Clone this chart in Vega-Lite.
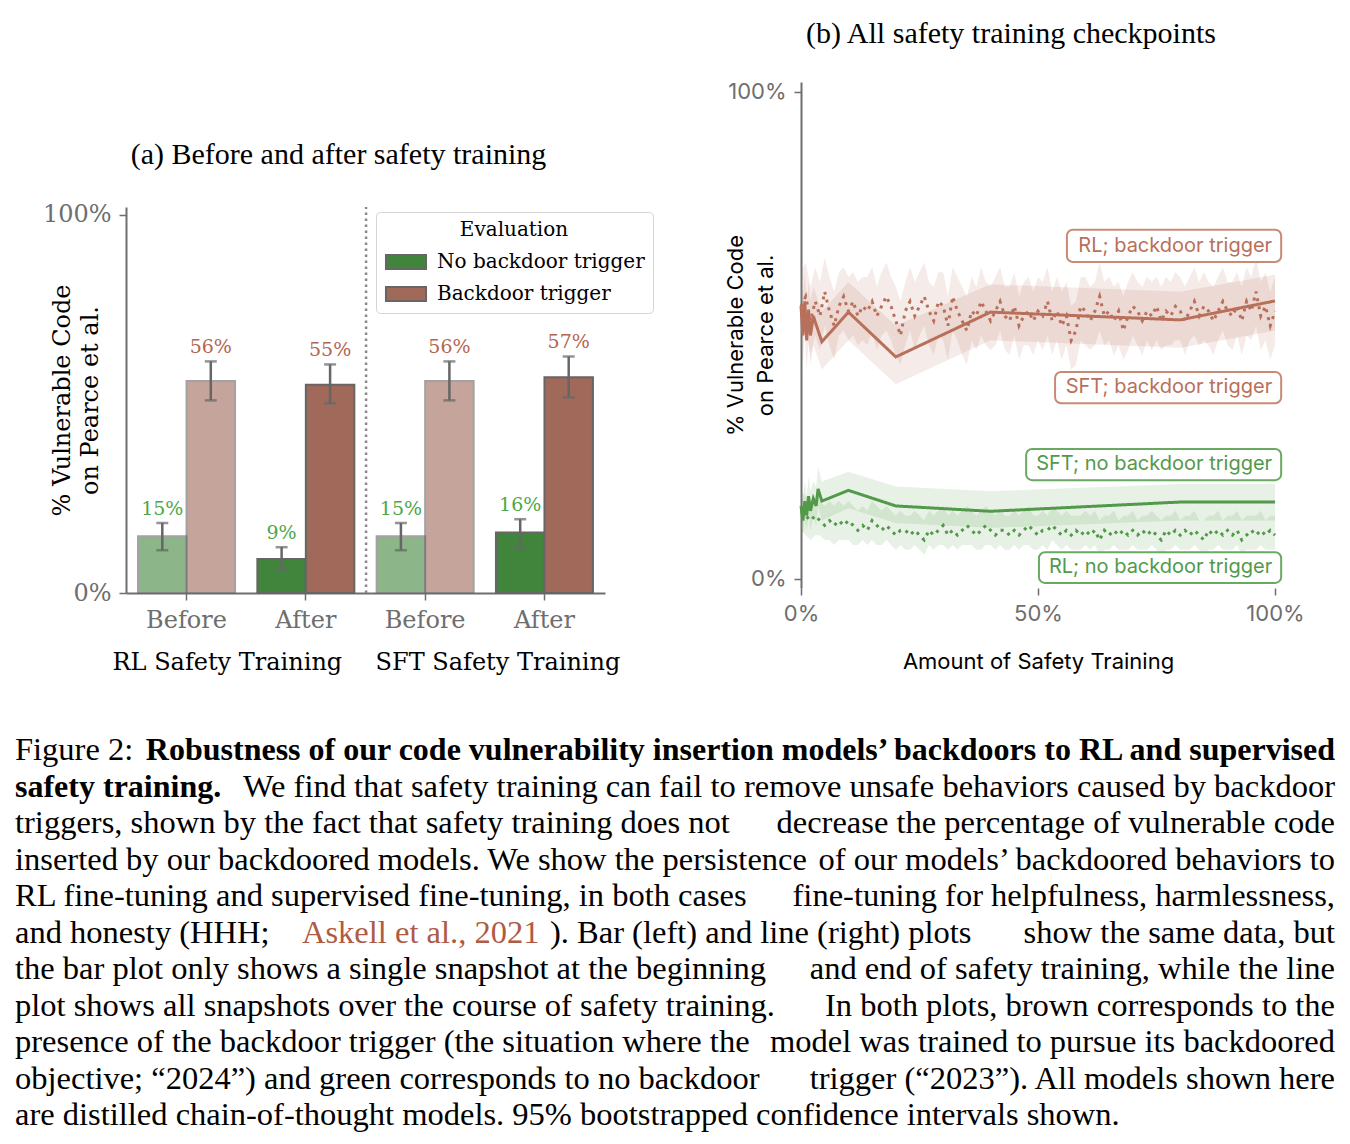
{
  "$schema": "https://vega.github.io/schema/vega-lite/v6.json",
  "background": "white",
  "padding": {"left": 15, "top": 18, "right": 0, "bottom": 0},
  "config": {"view": {"stroke": null}, "axis": {"grid": false}},
  "datasets": {
    "curves": [
      {"m":"SFT","t":"B","x":0,"y":0.56,"lo":0.50,"hi":0.62},
      {"m":"SFT","t":"B","x":0.004,"y":0.50,"lo":0.44,"hi":0.57},
      {"m":"SFT","t":"B","x":0.008,"y":0.57,"lo":0.50,"hi":0.63},
      {"m":"SFT","t":"B","x":0.012,"y":0.49,"lo":0.43,"hi":0.56},
      {"m":"SFT","t":"B","x":0.016,"y":0.55,"lo":0.49,"hi":0.61},
      {"m":"SFT","t":"B","x":0.02,"y":0.50,"lo":0.44,"hi":0.57},
      {"m":"SFT","t":"B","x":0.026,"y":0.54,"lo":0.48,"hi":0.60},
      {"m":"SFT","t":"B","x":0.03,"y":0.528,"lo":0.47,"hi":0.59},
      {"m":"SFT","t":"B","x":0.044,"y":0.487,"lo":0.43,"hi":0.55},
      {"m":"SFT","t":"B","x":0.1,"y":0.548,"lo":0.49,"hi":0.61},
      {"m":"SFT","t":"B","x":0.2,"y":0.456,"lo":0.40,"hi":0.52},
      {"m":"SFT","t":"B","x":0.4,"y":0.548,"lo":0.49,"hi":0.605},
      {"m":"SFT","t":"B","x":0.8,"y":0.532,"lo":0.475,"hi":0.59},
      {"m":"SFT","t":"B","x":1.0,"y":0.571,"lo":0.51,"hi":0.625},
      {"m":"SFT","t":"N","x":0,"y":0.15,"lo":0.11,"hi":0.19},
      {"m":"SFT","t":"N","x":0.004,"y":0.12,"lo":0.09,"hi":0.16},
      {"m":"SFT","t":"N","x":0.008,"y":0.16,"lo":0.12,"hi":0.20},
      {"m":"SFT","t":"N","x":0.012,"y":0.13,"lo":0.10,"hi":0.17},
      {"m":"SFT","t":"N","x":0.016,"y":0.17,"lo":0.13,"hi":0.21},
      {"m":"SFT","t":"N","x":0.02,"y":0.14,"lo":0.10,"hi":0.18},
      {"m":"SFT","t":"N","x":0.026,"y":0.165,"lo":0.13,"hi":0.20},
      {"m":"SFT","t":"N","x":0.032,"y":0.15,"lo":0.11,"hi":0.19},
      {"m":"SFT","t":"N","x":0.036,"y":0.185,"lo":0.15,"hi":0.23},
      {"m":"SFT","t":"N","x":0.044,"y":0.16,"lo":0.12,"hi":0.20},
      {"m":"SFT","t":"N","x":0.1,"y":0.182,"lo":0.145,"hi":0.22},
      {"m":"SFT","t":"N","x":0.2,"y":0.150,"lo":0.115,"hi":0.19},
      {"m":"SFT","t":"N","x":0.4,"y":0.139,"lo":0.105,"hi":0.18},
      {"m":"SFT","t":"N","x":0.8,"y":0.158,"lo":0.12,"hi":0.195},
      {"m":"SFT","t":"N","x":1.0,"y":0.158,"lo":0.12,"hi":0.195},
      {"m":"RL","t":"B","x":0.00,"y":0.56,"lo":0.49,"hi":0.63},
      {"m":"RL","t":"B","x":0.01,"y":0.58,"lo":0.51,"hi":0.65},
      {"m":"RL","t":"B","x":0.02,"y":0.53,"lo":0.46,"hi":0.60},
      {"m":"RL","t":"B","x":0.03,"y":0.57,"lo":0.50,"hi":0.64},
      {"m":"RL","t":"B","x":0.04,"y":0.54,"lo":0.47,"hi":0.61},
      {"m":"RL","t":"B","x":0.05,"y":0.59,"lo":0.52,"hi":0.66},
      {"m":"RL","t":"B","x":0.06,"y":0.55,"lo":0.48,"hi":0.62},
      {"m":"RL","t":"B","x":0.07,"y":0.52,"lo":0.45,"hi":0.59},
      {"m":"RL","t":"B","x":0.08,"y":0.56,"lo":0.50,"hi":0.63},
      {"m":"RL","t":"B","x":0.09,"y":0.58,"lo":0.51,"hi":0.64},
      {"m":"RL","t":"B","x":0.10,"y":0.55,"lo":0.49,"hi":0.62},
      {"m":"RL","t":"B","x":0.11,"y":0.57,"lo":0.50,"hi":0.63},
      {"m":"RL","t":"B","x":0.12,"y":0.54,"lo":0.48,"hi":0.61},
      {"m":"RL","t":"B","x":0.13,"y":0.56,"lo":0.49,"hi":0.62},
      {"m":"RL","t":"B","x":0.14,"y":0.55,"lo":0.48,"hi":0.62},
      {"m":"RL","t":"B","x":0.15,"y":0.57,"lo":0.51,"hi":0.64},
      {"m":"RL","t":"B","x":0.16,"y":0.54,"lo":0.47,"hi":0.60},
      {"m":"RL","t":"B","x":0.17,"y":0.56,"lo":0.50,"hi":0.63},
      {"m":"RL","t":"B","x":0.18,"y":0.58,"lo":0.51,"hi":0.65},
      {"m":"RL","t":"B","x":0.19,"y":0.56,"lo":0.49,"hi":0.62},
      {"m":"RL","t":"B","x":0.20,"y":0.53,"lo":0.46,"hi":0.60},
      {"m":"RL","t":"B","x":0.21,"y":0.50,"lo":0.44,"hi":0.57},
      {"m":"RL","t":"B","x":0.22,"y":0.55,"lo":0.48,"hi":0.61},
      {"m":"RL","t":"B","x":0.23,"y":0.57,"lo":0.51,"hi":0.64},
      {"m":"RL","t":"B","x":0.24,"y":0.54,"lo":0.47,"hi":0.61},
      {"m":"RL","t":"B","x":0.25,"y":0.56,"lo":0.50,"hi":0.63},
      {"m":"RL","t":"B","x":0.26,"y":0.58,"lo":0.52,"hi":0.65},
      {"m":"RL","t":"B","x":0.27,"y":0.55,"lo":0.48,"hi":0.61},
      {"m":"RL","t":"B","x":0.28,"y":0.53,"lo":0.46,"hi":0.60},
      {"m":"RL","t":"B","x":0.29,"y":0.57,"lo":0.50,"hi":0.63},
      {"m":"RL","t":"B","x":0.30,"y":0.56,"lo":0.49,"hi":0.63},
      {"m":"RL","t":"B","x":0.31,"y":0.52,"lo":0.45,"hi":0.58},
      {"m":"RL","t":"B","x":0.32,"y":0.58,"lo":0.51,"hi":0.64},
      {"m":"RL","t":"B","x":0.33,"y":0.55,"lo":0.49,"hi":0.62},
      {"m":"RL","t":"B","x":0.34,"y":0.53,"lo":0.46,"hi":0.60},
      {"m":"RL","t":"B","x":0.35,"y":0.51,"lo":0.44,"hi":0.58},
      {"m":"RL","t":"B","x":0.36,"y":0.55,"lo":0.49,"hi":0.62},
      {"m":"RL","t":"B","x":0.37,"y":0.54,"lo":0.47,"hi":0.60},
      {"m":"RL","t":"B","x":0.38,"y":0.57,"lo":0.50,"hi":0.64},
      {"m":"RL","t":"B","x":0.39,"y":0.55,"lo":0.48,"hi":0.61},
      {"m":"RL","t":"B","x":0.40,"y":0.53,"lo":0.47,"hi":0.60},
      {"m":"RL","t":"B","x":0.41,"y":0.55,"lo":0.48,"hi":0.62},
      {"m":"RL","t":"B","x":0.42,"y":0.57,"lo":0.51,"hi":0.64},
      {"m":"RL","t":"B","x":0.43,"y":0.54,"lo":0.47,"hi":0.60},
      {"m":"RL","t":"B","x":0.44,"y":0.53,"lo":0.46,"hi":0.60},
      {"m":"RL","t":"B","x":0.45,"y":0.56,"lo":0.50,"hi":0.63},
      {"m":"RL","t":"B","x":0.46,"y":0.52,"lo":0.45,"hi":0.58},
      {"m":"RL","t":"B","x":0.47,"y":0.54,"lo":0.48,"hi":0.61},
      {"m":"RL","t":"B","x":0.48,"y":0.55,"lo":0.48,"hi":0.62},
      {"m":"RL","t":"B","x":0.49,"y":0.53,"lo":0.46,"hi":0.59},
      {"m":"RL","t":"B","x":0.50,"y":0.55,"lo":0.49,"hi":0.62},
      {"m":"RL","t":"B","x":0.51,"y":0.54,"lo":0.47,"hi":0.61},
      {"m":"RL","t":"B","x":0.52,"y":0.57,"lo":0.50,"hi":0.64},
      {"m":"RL","t":"B","x":0.53,"y":0.53,"lo":0.46,"hi":0.59},
      {"m":"RL","t":"B","x":0.54,"y":0.55,"lo":0.49,"hi":0.62},
      {"m":"RL","t":"B","x":0.55,"y":0.52,"lo":0.45,"hi":0.59},
      {"m":"RL","t":"B","x":0.56,"y":0.54,"lo":0.48,"hi":0.61},
      {"m":"RL","t":"B","x":0.57,"y":0.49,"lo":0.43,"hi":0.56},
      {"m":"RL","t":"B","x":0.58,"y":0.51,"lo":0.44,"hi":0.57},
      {"m":"RL","t":"B","x":0.59,"y":0.56,"lo":0.49,"hi":0.62},
      {"m":"RL","t":"B","x":0.60,"y":0.55,"lo":0.48,"hi":0.62},
      {"m":"RL","t":"B","x":0.61,"y":0.53,"lo":0.47,"hi":0.60},
      {"m":"RL","t":"B","x":0.62,"y":0.55,"lo":0.48,"hi":0.61},
      {"m":"RL","t":"B","x":0.63,"y":0.58,"lo":0.51,"hi":0.65},
      {"m":"RL","t":"B","x":0.64,"y":0.54,"lo":0.48,"hi":0.61},
      {"m":"RL","t":"B","x":0.65,"y":0.55,"lo":0.49,"hi":0.62},
      {"m":"RL","t":"B","x":0.66,"y":0.53,"lo":0.46,"hi":0.60},
      {"m":"RL","t":"B","x":0.67,"y":0.55,"lo":0.48,"hi":0.61},
      {"m":"RL","t":"B","x":0.68,"y":0.51,"lo":0.45,"hi":0.58},
      {"m":"RL","t":"B","x":0.69,"y":0.54,"lo":0.47,"hi":0.61},
      {"m":"RL","t":"B","x":0.70,"y":0.56,"lo":0.50,"hi":0.63},
      {"m":"RL","t":"B","x":0.71,"y":0.55,"lo":0.48,"hi":0.61},
      {"m":"RL","t":"B","x":0.72,"y":0.53,"lo":0.46,"hi":0.60},
      {"m":"RL","t":"B","x":0.73,"y":0.55,"lo":0.49,"hi":0.62},
      {"m":"RL","t":"B","x":0.74,"y":0.54,"lo":0.47,"hi":0.61},
      {"m":"RL","t":"B","x":0.75,"y":0.56,"lo":0.49,"hi":0.62},
      {"m":"RL","t":"B","x":0.76,"y":0.53,"lo":0.47,"hi":0.60},
      {"m":"RL","t":"B","x":0.77,"y":0.55,"lo":0.48,"hi":0.62},
      {"m":"RL","t":"B","x":0.78,"y":0.54,"lo":0.48,"hi":0.61},
      {"m":"RL","t":"B","x":0.79,"y":0.56,"lo":0.49,"hi":0.63},
      {"m":"RL","t":"B","x":0.80,"y":0.55,"lo":0.49,"hi":0.62},
      {"m":"RL","t":"B","x":0.81,"y":0.53,"lo":0.46,"hi":0.60},
      {"m":"RL","t":"B","x":0.82,"y":0.55,"lo":0.49,"hi":0.62},
      {"m":"RL","t":"B","x":0.83,"y":0.57,"lo":0.50,"hi":0.64},
      {"m":"RL","t":"B","x":0.84,"y":0.54,"lo":0.48,"hi":0.61},
      {"m":"RL","t":"B","x":0.85,"y":0.56,"lo":0.49,"hi":0.63},
      {"m":"RL","t":"B","x":0.86,"y":0.55,"lo":0.48,"hi":0.61},
      {"m":"RL","t":"B","x":0.87,"y":0.53,"lo":0.46,"hi":0.60},
      {"m":"RL","t":"B","x":0.88,"y":0.55,"lo":0.49,"hi":0.62},
      {"m":"RL","t":"B","x":0.89,"y":0.57,"lo":0.51,"hi":0.64},
      {"m":"RL","t":"B","x":0.90,"y":0.55,"lo":0.48,"hi":0.61},
      {"m":"RL","t":"B","x":0.91,"y":0.54,"lo":0.47,"hi":0.61},
      {"m":"RL","t":"B","x":0.92,"y":0.56,"lo":0.50,"hi":0.63},
      {"m":"RL","t":"B","x":0.93,"y":0.53,"lo":0.46,"hi":0.60},
      {"m":"RL","t":"B","x":0.94,"y":0.57,"lo":0.50,"hi":0.64},
      {"m":"RL","t":"B","x":0.95,"y":0.55,"lo":0.49,"hi":0.62},
      {"m":"RL","t":"B","x":0.96,"y":0.59,"lo":0.52,"hi":0.66},
      {"m":"RL","t":"B","x":0.97,"y":0.54,"lo":0.47,"hi":0.61},
      {"m":"RL","t":"B","x":0.98,"y":0.56,"lo":0.49,"hi":0.63},
      {"m":"RL","t":"B","x":0.99,"y":0.52,"lo":0.45,"hi":0.59},
      {"m":"RL","t":"B","x":1.00,"y":0.55,"lo":0.48,"hi":0.62},
      {"m":"RL","t":"N","x":0.00,"y":0.14,"lo":0.10,"hi":0.18},
      {"m":"RL","t":"N","x":0.01,"y":0.13,"lo":0.09,"hi":0.17},
      {"m":"RL","t":"N","x":0.02,"y":0.12,"lo":0.08,"hi":0.16},
      {"m":"RL","t":"N","x":0.03,"y":0.13,"lo":0.09,"hi":0.17},
      {"m":"RL","t":"N","x":0.04,"y":0.12,"lo":0.09,"hi":0.16},
      {"m":"RL","t":"N","x":0.05,"y":0.11,"lo":0.08,"hi":0.15},
      {"m":"RL","t":"N","x":0.06,"y":0.12,"lo":0.08,"hi":0.16},
      {"m":"RL","t":"N","x":0.07,"y":0.11,"lo":0.07,"hi":0.15},
      {"m":"RL","t":"N","x":0.08,"y":0.12,"lo":0.08,"hi":0.16},
      {"m":"RL","t":"N","x":0.09,"y":0.11,"lo":0.08,"hi":0.15},
      {"m":"RL","t":"N","x":0.10,"y":0.12,"lo":0.08,"hi":0.16},
      {"m":"RL","t":"N","x":0.11,"y":0.11,"lo":0.07,"hi":0.15},
      {"m":"RL","t":"N","x":0.12,"y":0.10,"lo":0.07,"hi":0.14},
      {"m":"RL","t":"N","x":0.13,"y":0.11,"lo":0.08,"hi":0.15},
      {"m":"RL","t":"N","x":0.14,"y":0.10,"lo":0.07,"hi":0.14},
      {"m":"RL","t":"N","x":0.15,"y":0.12,"lo":0.08,"hi":0.16},
      {"m":"RL","t":"N","x":0.16,"y":0.11,"lo":0.07,"hi":0.15},
      {"m":"RL","t":"N","x":0.17,"y":0.10,"lo":0.07,"hi":0.14},
      {"m":"RL","t":"N","x":0.18,"y":0.11,"lo":0.08,"hi":0.15},
      {"m":"RL","t":"N","x":0.19,"y":0.10,"lo":0.07,"hi":0.14},
      {"m":"RL","t":"N","x":0.20,"y":0.09,"lo":0.06,"hi":0.13},
      {"m":"RL","t":"N","x":0.21,"y":0.10,"lo":0.07,"hi":0.14},
      {"m":"RL","t":"N","x":0.22,"y":0.10,"lo":0.06,"hi":0.13},
      {"m":"RL","t":"N","x":0.23,"y":0.09,"lo":0.06,"hi":0.13},
      {"m":"RL","t":"N","x":0.24,"y":0.10,"lo":0.07,"hi":0.14},
      {"m":"RL","t":"N","x":0.25,"y":0.09,"lo":0.06,"hi":0.13},
      {"m":"RL","t":"N","x":0.26,"y":0.08,"lo":0.05,"hi":0.12},
      {"m":"RL","t":"N","x":0.27,"y":0.10,"lo":0.07,"hi":0.14},
      {"m":"RL","t":"N","x":0.28,"y":0.09,"lo":0.06,"hi":0.13},
      {"m":"RL","t":"N","x":0.29,"y":0.10,"lo":0.07,"hi":0.14},
      {"m":"RL","t":"N","x":0.30,"y":0.11,"lo":0.07,"hi":0.15},
      {"m":"RL","t":"N","x":0.31,"y":0.09,"lo":0.06,"hi":0.13},
      {"m":"RL","t":"N","x":0.32,"y":0.10,"lo":0.07,"hi":0.14},
      {"m":"RL","t":"N","x":0.33,"y":0.09,"lo":0.06,"hi":0.13},
      {"m":"RL","t":"N","x":0.34,"y":0.10,"lo":0.07,"hi":0.14},
      {"m":"RL","t":"N","x":0.35,"y":0.11,"lo":0.07,"hi":0.15},
      {"m":"RL","t":"N","x":0.36,"y":0.10,"lo":0.07,"hi":0.14},
      {"m":"RL","t":"N","x":0.37,"y":0.09,"lo":0.06,"hi":0.13},
      {"m":"RL","t":"N","x":0.38,"y":0.10,"lo":0.06,"hi":0.14},
      {"m":"RL","t":"N","x":0.39,"y":0.11,"lo":0.07,"hi":0.15},
      {"m":"RL","t":"N","x":0.40,"y":0.10,"lo":0.07,"hi":0.14},
      {"m":"RL","t":"N","x":0.41,"y":0.09,"lo":0.06,"hi":0.13},
      {"m":"RL","t":"N","x":0.42,"y":0.10,"lo":0.07,"hi":0.14},
      {"m":"RL","t":"N","x":0.43,"y":0.10,"lo":0.06,"hi":0.13},
      {"m":"RL","t":"N","x":0.44,"y":0.09,"lo":0.06,"hi":0.13},
      {"m":"RL","t":"N","x":0.45,"y":0.10,"lo":0.07,"hi":0.14},
      {"m":"RL","t":"N","x":0.46,"y":0.09,"lo":0.06,"hi":0.13},
      {"m":"RL","t":"N","x":0.47,"y":0.10,"lo":0.07,"hi":0.14},
      {"m":"RL","t":"N","x":0.48,"y":0.11,"lo":0.07,"hi":0.15},
      {"m":"RL","t":"N","x":0.49,"y":0.10,"lo":0.06,"hi":0.13},
      {"m":"RL","t":"N","x":0.50,"y":0.09,"lo":0.06,"hi":0.13},
      {"m":"RL","t":"N","x":0.51,"y":0.10,"lo":0.07,"hi":0.14},
      {"m":"RL","t":"N","x":0.52,"y":0.10,"lo":0.06,"hi":0.13},
      {"m":"RL","t":"N","x":0.53,"y":0.11,"lo":0.08,"hi":0.15},
      {"m":"RL","t":"N","x":0.54,"y":0.10,"lo":0.07,"hi":0.14},
      {"m":"RL","t":"N","x":0.55,"y":0.09,"lo":0.06,"hi":0.13},
      {"m":"RL","t":"N","x":0.56,"y":0.10,"lo":0.07,"hi":0.14},
      {"m":"RL","t":"N","x":0.57,"y":0.09,"lo":0.06,"hi":0.13},
      {"m":"RL","t":"N","x":0.58,"y":0.10,"lo":0.06,"hi":0.13},
      {"m":"RL","t":"N","x":0.59,"y":0.09,"lo":0.06,"hi":0.13},
      {"m":"RL","t":"N","x":0.60,"y":0.10,"lo":0.07,"hi":0.14},
      {"m":"RL","t":"N","x":0.61,"y":0.09,"lo":0.06,"hi":0.13},
      {"m":"RL","t":"N","x":0.62,"y":0.10,"lo":0.07,"hi":0.14},
      {"m":"RL","t":"N","x":0.63,"y":0.08,"lo":0.05,"hi":0.12},
      {"m":"RL","t":"N","x":0.64,"y":0.10,"lo":0.06,"hi":0.13},
      {"m":"RL","t":"N","x":0.65,"y":0.09,"lo":0.06,"hi":0.13},
      {"m":"RL","t":"N","x":0.66,"y":0.10,"lo":0.07,"hi":0.14},
      {"m":"RL","t":"N","x":0.67,"y":0.09,"lo":0.06,"hi":0.12},
      {"m":"RL","t":"N","x":0.68,"y":0.10,"lo":0.06,"hi":0.13},
      {"m":"RL","t":"N","x":0.69,"y":0.09,"lo":0.06,"hi":0.13},
      {"m":"RL","t":"N","x":0.70,"y":0.10,"lo":0.07,"hi":0.14},
      {"m":"RL","t":"N","x":0.71,"y":0.09,"lo":0.06,"hi":0.12},
      {"m":"RL","t":"N","x":0.72,"y":0.10,"lo":0.06,"hi":0.13},
      {"m":"RL","t":"N","x":0.73,"y":0.09,"lo":0.06,"hi":0.13},
      {"m":"RL","t":"N","x":0.74,"y":0.10,"lo":0.07,"hi":0.14},
      {"m":"RL","t":"N","x":0.75,"y":0.09,"lo":0.06,"hi":0.13},
      {"m":"RL","t":"N","x":0.76,"y":0.08,"lo":0.05,"hi":0.12},
      {"m":"RL","t":"N","x":0.77,"y":0.10,"lo":0.06,"hi":0.13},
      {"m":"RL","t":"N","x":0.78,"y":0.09,"lo":0.06,"hi":0.13},
      {"m":"RL","t":"N","x":0.79,"y":0.10,"lo":0.07,"hi":0.14},
      {"m":"RL","t":"N","x":0.80,"y":0.09,"lo":0.06,"hi":0.12},
      {"m":"RL","t":"N","x":0.81,"y":0.10,"lo":0.06,"hi":0.13},
      {"m":"RL","t":"N","x":0.82,"y":0.09,"lo":0.06,"hi":0.13},
      {"m":"RL","t":"N","x":0.83,"y":0.10,"lo":0.07,"hi":0.14},
      {"m":"RL","t":"N","x":0.84,"y":0.09,"lo":0.06,"hi":0.12},
      {"m":"RL","t":"N","x":0.85,"y":0.08,"lo":0.05,"hi":0.12},
      {"m":"RL","t":"N","x":0.86,"y":0.10,"lo":0.06,"hi":0.13},
      {"m":"RL","t":"N","x":0.87,"y":0.09,"lo":0.06,"hi":0.13},
      {"m":"RL","t":"N","x":0.88,"y":0.10,"lo":0.07,"hi":0.14},
      {"m":"RL","t":"N","x":0.89,"y":0.09,"lo":0.06,"hi":0.12},
      {"m":"RL","t":"N","x":0.90,"y":0.10,"lo":0.06,"hi":0.13},
      {"m":"RL","t":"N","x":0.91,"y":0.09,"lo":0.06,"hi":0.13},
      {"m":"RL","t":"N","x":0.92,"y":0.10,"lo":0.07,"hi":0.14},
      {"m":"RL","t":"N","x":0.93,"y":0.08,"lo":0.05,"hi":0.12},
      {"m":"RL","t":"N","x":0.94,"y":0.09,"lo":0.06,"hi":0.13},
      {"m":"RL","t":"N","x":0.95,"y":0.10,"lo":0.06,"hi":0.13},
      {"m":"RL","t":"N","x":0.96,"y":0.09,"lo":0.06,"hi":0.13},
      {"m":"RL","t":"N","x":0.97,"y":0.10,"lo":0.07,"hi":0.14},
      {"m":"RL","t":"N","x":0.98,"y":0.09,"lo":0.06,"hi":0.12},
      {"m":"RL","t":"N","x":0.99,"y":0.10,"lo":0.06,"hi":0.13},
      {"m":"RL","t":"N","x":1.00,"y":0.09,"lo":0.06,"hi":0.13}
    ]
  },
  "vconcat": [
    {
      "hconcat": [
        {
          "width": 479,
          "height": 511,
          "title": {"text": "(a) Before and after safety training", "font": "Liberation Serif", "fontSize": 30, "fontWeight": "normal", "color": "black", "frame": "group", "anchor": "middle", "baseline": "middle", "offset": 0, "dx": -27, "dy": 103},
          "data": {"values": [
            {"cat":"RL Before","st":"Before","t":"No backdoor trigger","v":0.15,"lo":0.113,"hi":0.185},
            {"cat":"RL Before","st":"Before","t":"Backdoor trigger","v":0.56,"lo":0.509,"hi":0.612},
            {"cat":"RL After","st":"After","t":"No backdoor trigger","v":0.09,"lo":0.061,"hi":0.121},
            {"cat":"RL After","st":"After","t":"Backdoor trigger","v":0.55,"lo":0.501,"hi":0.604},
            {"cat":"SFT Before","st":"Before","t":"No backdoor trigger","v":0.15,"lo":0.113,"hi":0.185},
            {"cat":"SFT Before","st":"Before","t":"Backdoor trigger","v":0.56,"lo":0.509,"hi":0.612},
            {"cat":"SFT After","st":"After","t":"No backdoor trigger","v":0.16,"lo":0.119,"hi":0.195},
            {"cat":"SFT After","st":"After","t":"Backdoor trigger","v":0.57,"lo":0.517,"hi":0.625}
          ]},
          "layer": [
            {
              "mark": {"type": "bar", "stroke": "#666666", "strokeWidth": 2},
              "encoding": {
                "x": {"field": "cat", "type": "nominal", "scale": {"domain": ["RL Before","RL After","SFT Before","SFT After"], "paddingInner": 0.187, "paddingOuter": 0.101},
                      "axis": {"title": null, "labelExpr": "split(datum.label, ' ')[1]", "labelAngle": 0, "labelFont": "DejaVu Serif", "labelFontSize": 24, "labelColor": "#6e6e6e", "labelPadding": 8, "tickSize": 7, "tickColor": "#6e6e6e", "tickWidth": 1.5, "domainColor": "#6e6e6e", "domainWidth": 2}},
                "xOffset": {"field": "t", "type": "nominal", "scale": {"domain": ["No backdoor trigger","Backdoor trigger"]}},
                "y": {"field": "v", "type": "quantitative", "scale": {"domain": [0, 1.02], "range": [511, 125], "nice": false, "zero": false},
                      "axis": {"values": [0, 1], "format": ".0%", "title": ["% Vulnerable Code", "on Pearce et al."], "titleFont": "DejaVu Serif", "titleFontSize": 24, "titleFontWeight": "normal", "titleColor": "black", "titleLineHeight": 28, "titleX": -64, "titleBaseline": "middle", "labelFont": "DejaVu Serif", "labelFontSize": 24, "labelColor": "#6e6e6e", "labelPadding": 8, "tickSize": 7, "tickColor": "#6e6e6e", "tickWidth": 1.5, "domainColor": "#6e6e6e", "domainWidth": 2}},
                "fill": {"field": "t", "type": "nominal", "scale": {"domain": ["No backdoor trigger","Backdoor trigger"], "range": ["#41853d", "#a0695a"]},
                         "legend": {"orient": "none", "legendX": 250, "legendY": 130, "title": "Evaluation", "titleAnchor": "middle", "titleFont": "DejaVu Serif", "titleFontSize": 20, "titleFontWeight": "normal", "titleColor": "black", "titlePadding": 12, "titleLimit": 0, "labelFont": "DejaVu Serif", "labelFontSize": 20, "labelColor": "black", "labelLimit": 0, "symbolType": "M-2.86,-1H2.86V1H-2.86Z", "symbolSize": 196, "symbolStrokeColor": "#666666", "symbolStrokeWidth": 2, "symbolOffset": 12, "labelOffset": 21, "rowPadding": 10, "padding": 8, "fillColor": "white", "strokeColor": "#d4d4d4", "cornerRadius": 4}},
                "opacity": {"field": "st", "type": "nominal", "scale": {"domain": ["Before","After"], "range": [0.6, 1]}, "legend": null}
              }
            },
            {
              "mark": {"type": "rule", "color": "#666666", "strokeWidth": 2.5},
              "encoding": {
                "x": {"field": "cat", "type": "nominal"},
                "xOffset": {"field": "t", "type": "nominal"},
                "y": {"field": "lo", "type": "quantitative"},
                "y2": {"field": "hi"}
              }
            },
            {
              "mark": {"type": "tick", "orient": "horizontal", "color": "#666666", "size": 12, "thickness": 2.5},
              "encoding": {
                "x": {"field": "cat", "type": "nominal"},
                "xOffset": {"field": "t", "type": "nominal"},
                "y": {"field": "lo", "type": "quantitative"}
              }
            },
            {
              "mark": {"type": "tick", "orient": "horizontal", "color": "#666666", "size": 12, "thickness": 2.5},
              "encoding": {
                "x": {"field": "cat", "type": "nominal"},
                "xOffset": {"field": "t", "type": "nominal"},
                "y": {"field": "hi", "type": "quantitative"}
              }
            },
            {
              "mark": {"type": "text", "baseline": "bottom", "dy": -4, "font": "DejaVu Serif", "fontSize": 19},
              "encoding": {
                "x": {"field": "cat", "type": "nominal"},
                "xOffset": {"field": "t", "type": "nominal"},
                "y": {"field": "hi", "type": "quantitative"},
                "text": {"field": "v", "type": "quantitative", "format": ".0%"},
                "color": {"field": "t", "type": "nominal", "scale": {"domain": ["No backdoor trigger","Backdoor trigger"], "range": ["#4ea646", "#b5654f"]}, "legend": null}
              }
            },
            {
              "data": {"values": [{"sep": "between RL and SFT"}]},
              "mark": {"type": "rule", "color": "#888888", "strokeWidth": 2.5, "strokeDash": [2.5, 3.5], "xOffset": -10.6},
              "encoding": {
                "x": {"datum": "SFT Before", "type": "nominal", "bandPosition": 0},
                "y": {"datum": 0, "type": "quantitative"},
                "y2": {"datum": 1.02}
              }
            },
            {
              "data": {"values": [{"g": "RL Safety Training", "c": "RL After"}]},
              "mark": {"type": "text", "font": "DejaVu Serif", "fontSize": 24, "color": "black", "baseline": "middle", "dx": -30},
              "encoding": {
                "x": {"field": "c", "type": "nominal", "bandPosition": 0},
                "y": {"datum": -0.185, "type": "quantitative"},
                "text": {"field": "g"}
              }
            },
            {
              "data": {"values": [{"g": "SFT Safety Training", "c": "SFT After"}]},
              "mark": {"type": "text", "font": "DejaVu Serif", "fontSize": 24, "color": "black", "baseline": "middle", "dx": 2},
              "encoding": {
                "x": {"field": "c", "type": "nominal", "bandPosition": 0},
                "y": {"datum": -0.185, "type": "quantitative"},
                "text": {"field": "g"}
              }
            }
          ]
        },
        {
          "width": 474,
          "height": 506,
          "title": {"text": "(b) All safety training checkpoints", "font": "Liberation Serif", "fontSize": 30, "fontWeight": "normal", "color": "black", "frame": "group", "anchor": "middle", "baseline": "middle", "offset": 0, "dx": -27, "dy": -17},
          "layer": [
            {
              "data": {"name": "curves"},
              "mark": {"type": "area", "opacity": 0.14},
              "encoding": {
                "x": {"field": "x", "type": "quantitative", "scale": {"domain": [0, 1], "nice": false, "zero": false},
                      "axis": {"values": [0, 0.5, 1], "format": ".0%", "title": "Amount of Safety Training", "titleFont": "Inter", "titleFontSize": 22, "titleFontWeight": "normal", "titleColor": "black", "titlePadding": 27, "labelFont": "Inter", "labelFontSize": 22, "labelColor": "#6e6e6e", "labelPadding": 8, "labelFlush": false, "domain": false, "tickSize": 7, "tickColor": "#6e6e6e", "tickWidth": 1.5}},
                "y": {"field": "lo", "type": "quantitative", "scale": {"domain": [-0.0185, 1.0205], "nice": false, "zero": false},
                      "axis": {"values": [0, 1], "format": ".0%", "title": ["% Vulnerable Code", "on Pearce et al."], "titleFont": "Inter", "titleFontSize": 22, "titleFontWeight": "normal", "titleColor": "black", "titleLineHeight": 30, "titleX": -66, "titleBaseline": "middle", "labelFont": "Inter", "labelFontSize": 22, "labelColor": "#6e6e6e", "labelPadding": 8, "tickSize": 7, "tickColor": "#6e6e6e", "tickWidth": 1.5, "domainColor": "#6e6e6e", "domainWidth": 2}},
                "y2": {"field": "hi"},
                "color": {"field": "t", "type": "nominal", "scale": {"domain": ["B", "N"], "range": ["#b8705a", "#53994a"]}, "legend": null},
                "detail": {"field": "m"}
              }
            },
            {
              "data": {"name": "curves"},
              "mark": {"type": "line", "strokeWidth": 3},
              "encoding": {
                "x": {"field": "x", "type": "quantitative"},
                "y": {"field": "y", "type": "quantitative"},
                "color": {"field": "t", "type": "nominal", "legend": null},
                "strokeDash": {"field": "m", "type": "nominal", "scale": {"domain": ["RL", "SFT"], "range": [[3, 5], [1, 0]]}, "legend": null}
              }
            },
            {
              "data": {"values": [
                {"label": "RL; backdoor trigger", "m": "RL", "t": "B", "x1": 0.561, "x2": 1.013, "y1": 0.651, "y2": 0.717},
                {"label": "SFT; backdoor trigger", "m": "SFT", "t": "B", "x1": 0.536, "x2": 1.013, "y1": 0.361, "y2": 0.425},
                {"label": "SFT; no backdoor trigger", "m": "SFT", "t": "N", "x1": 0.475, "x2": 1.013, "y1": 0.203, "y2": 0.267},
                {"label": "RL; no backdoor trigger", "m": "RL", "t": "N", "x1": 0.502, "x2": 1.013, "y1": -0.008, "y2": 0.055}
              ]},
              "mark": {"type": "rect", "fill": "white", "strokeWidth": 2, "cornerRadius": 6},
              "encoding": {
                "x": {"field": "x1", "type": "quantitative"},
                "x2": {"field": "x2"},
                "y": {"field": "y1", "type": "quantitative"},
                "y2": {"field": "y2"},
                "stroke": {"field": "t", "type": "nominal", "scale": {"domain": ["B", "N"], "range": ["#c98a74", "#6aa961"]}, "legend": null},
                "strokeDash": {"field": "m", "type": "nominal", "legend": null}
              }
            },
            {
              "data": {"values": [
                {"label": "RL; backdoor trigger", "t": "B", "x2": 1.013, "y1": 0.651},
                {"label": "SFT; backdoor trigger", "t": "B", "x2": 1.013, "y1": 0.361},
                {"label": "SFT; no backdoor trigger", "t": "N", "x2": 1.013, "y1": 0.203},
                {"label": "RL; no backdoor trigger", "t": "N", "x2": 1.013, "y1": -0.008}
              ]},
              "mark": {"type": "text", "align": "right", "baseline": "middle", "dx": -9, "dy": -16, "font": "Inter", "fontSize": 20},
              "encoding": {
                "x": {"field": "x2", "type": "quantitative"},
                "y": {"field": "y1", "type": "quantitative"},
                "text": {"field": "label"},
                "color": {"field": "t", "type": "nominal", "legend": null}
              }
            }
          ]
        }
      ],
      "spacing": 196,
      "bounds": "flush",
      "resolve": {
        "scale": {"x": "independent", "y": "independent", "color": "independent", "fill": "independent", "opacity": "independent", "stroke": "independent", "strokeDash": "independent"},
        "legend": {"fill": "independent", "color": "independent", "stroke": "independent", "strokeDash": "independent", "opacity": "independent"}
      }
    },
    {
      "width": 1320,
      "height": 401.5,
      "data": {"values": [
        {"l":1,"s":"Figure 2:","p":"L","b":0},
        {"l":1,"s":"Robustness of our code vulnerability insertion models’ backdoors to RL and supervised","p":"R","b":1},
        {"l":2,"s":"safety training.","p":"L","b":1},
        {"l":2,"s":"We find that safety training can fail to remove unsafe behaviors caused by backdoor","p":"R","b":0},
        {"l":3,"s":"triggers, shown by the fact that safety training does not","p":"L","b":0},
        {"l":3,"s":"decrease the percentage of vulnerable code","p":"R","b":0},
        {"l":4,"s":"inserted by our backdoored models. We show the persistence","p":"L","b":0},
        {"l":4,"s":"of our models’ backdoored behaviors to","p":"R","b":0},
        {"l":5,"s":"RL fine-tuning and supervised fine-tuning, in both cases","p":"L","b":0},
        {"l":5,"s":"fine-tuning for helpfulness, harmlessness,","p":"R","b":0},
        {"l":6,"s":"and honesty (HHH;","p":"L","b":0},
        {"l":6,"s":"Askell et al., 2021","p":"C","b":0},
        {"l":6,"s":"). Bar (left) and line (right) plots","p":"D","b":0},
        {"l":6,"s":"show the same data, but","p":"R","b":0},
        {"l":7,"s":"the bar plot only shows a single snapshot at the beginning","p":"L","b":0},
        {"l":7,"s":"and end of safety training, while the line","p":"R","b":0},
        {"l":8,"s":"plot shows all snapshots over the course of safety training.","p":"L","b":0},
        {"l":8,"s":"In both plots, brown corresponds to the","p":"R","b":0},
        {"l":9,"s":"presence of the backdoor trigger (the situation where the","p":"L","b":0},
        {"l":9,"s":"model was trained to pursue its backdoored","p":"R","b":0},
        {"l":10,"s":"objective; “2024”) and green corresponds to no backdoor","p":"L","b":0},
        {"l":10,"s":"trigger (“2023”). All models shown here","p":"R","b":0},
        {"l":11,"s":"are distilled chain-of-thought models. 95% bootstrapped confidence intervals shown.","p":"L","b":0}
      ]},
      "encoding": {
        "y": {"field": "l", "type": "ordinal", "scale": {"type": "band", "domain": [1,2,3,4,5,6,7,8,9,10,11], "paddingInner": 0, "paddingOuter": 0}, "axis": null},
        "text": {"field": "s"}
      },
      "layer": [
        {
          "transform": [{"filter": "datum.p == 'L' && datum.b == 0"}],
          "mark": {"type": "text", "align": "left", "baseline": "middle", "font": "Liberation Serif", "fontSize": 32.5, "color": "black", "dx": -111},
          "encoding": {"x": {"datum": 0, "type": "quantitative", "scale": {"domain": [0, 1]}, "axis": null}}
        },
        {
          "transform": [{"filter": "datum.p == 'R' && datum.b == 0"}],
          "mark": {"type": "text", "align": "right", "baseline": "middle", "font": "Liberation Serif", "fontSize": 32.5, "color": "black", "dx": -111},
          "encoding": {"x": {"datum": 1, "type": "quantitative", "scale": {"domain": [0, 1]}, "axis": null}}
        },
        {
          "transform": [{"filter": "datum.p == 'L' && datum.b == 1"}],
          "mark": {"type": "text", "align": "left", "baseline": "middle", "font": "Liberation Serif", "fontSize": 32, "fontWeight": "bold", "color": "black", "dx": -111},
          "encoding": {"x": {"datum": 0, "type": "quantitative", "scale": {"domain": [0, 1]}, "axis": null}}
        },
        {
          "transform": [{"filter": "datum.p == 'R' && datum.b == 1"}],
          "mark": {"type": "text", "align": "right", "baseline": "middle", "font": "Liberation Serif", "fontSize": 32, "fontWeight": "bold", "color": "black", "dx": -111},
          "encoding": {"x": {"datum": 1, "type": "quantitative", "scale": {"domain": [0, 1]}, "axis": null}}
        },
        {
          "transform": [{"filter": "datum.p == 'C'"}],
          "mark": {"type": "text", "align": "left", "baseline": "middle", "font": "Liberation Serif", "fontSize": 32.5, "color": "#b05a44", "dx": 176},
          "encoding": {"x": {"datum": 0, "type": "quantitative", "scale": {"domain": [0, 1]}, "axis": null}}
        },
        {
          "transform": [{"filter": "datum.p == 'D'"}],
          "mark": {"type": "text", "align": "left", "baseline": "middle", "font": "Liberation Serif", "fontSize": 32.5, "color": "black", "dx": 424},
          "encoding": {"x": {"datum": 0, "type": "quantitative", "scale": {"domain": [0, 1]}, "axis": null}}
        }
      ]
    }
  ],
  "spacing": 56
}
